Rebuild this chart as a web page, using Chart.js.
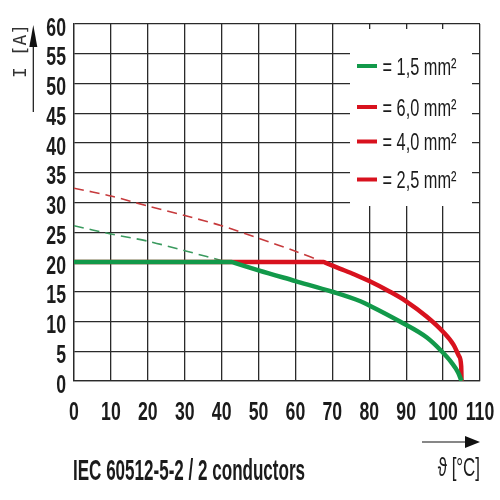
<!DOCTYPE html>
<html lang="en">
<head>
    <meta charset="UTF-8">
    <title>Derating curve</title>
    <script src="https://cdn.jsdelivr.net/npm/chart.js"></script>
    <style>
        body { margin: 0; background: #fff; }
        #wrap { width: 500px; height: 500px; position: relative; }
    </style>
</head>
<body>
    <div id="wrap"><canvas id="derating"></canvas></div>

    <script>
        // values (temperature in °C, current in A)
        const greenTemp = [0, 42.7, 43.5, 50, 60, 70, 77.6, 80, 88.3, 95.6, 99.6, 102.3, 104.1, 105];
        const greenAmp  = [20, 20, 19.85, 18.6, 16.8, 15, 13.4, 12.7, 10, 7.3, 5, 3.1, 1.4, 0];

        const redTemp = [0, 67.6, 68.4, 72, 76, 80, 85.6, 90, 95.6, 100.1, 102.8, 104.3, 104.9, 105];
        const redAmp  = [20, 20, 19.8, 18.9, 17.9, 16.8, 15, 13.4, 10.8, 8.2, 6.1, 4.2, 2.5, 0];

        const greenDashTemp = [0, 10, 20, 30, 41.4];
        const greenDashAmp  = [26.1, 24.7, 23.5, 21.9, 20];

        const redDashTemp = [0, 10, 20, 30, 40, 50, 60, 67.6];
        const redDashAmp  = [32.4, 31.1, 29.4, 27.8, 26.1, 24.0, 21.8, 20];

        const xTicks = [0, 10, 20, 30, 40, 50, 60, 70, 80, 90, 100, 110];
        const yTicks = [0, 5, 10, 15, 20, 25, 30, 35, 40, 45, 50, 55, 60];

        const conductors = ["1,5 mm²", "6,0 mm²", "4,0 mm²", "2,5 mm²"];

        const GREEN = "#12994a";
        const RED = "#d8121e";
        const INK = "#1b1b1b";
        const SANS = "'Liberation Sans', Arial, sans-serif";

        const toPoints = (xs, ys) => xs.map((x, i) => ({ x: x, y: ys[i] }));

        // condensed text: the original uses a narrow typeface
        function narrowText(ctx, text, x, y, sx, align) {
            ctx.save();
            ctx.translate(x, y);
            ctx.scale(sx, 1);
            ctx.textAlign = align;
            ctx.fillText(text, 0, 0);
            ctx.restore();
        }

        const decorations = {
            id: "decorations",
            afterDraw(chart) {
                const ctx = chart.ctx;
                const xs = chart.scales.x, ys = chart.scales.y;
                ctx.save();
                ctx.textBaseline = "alphabetic";

                // tick labels, placed by the scales
                ctx.fillStyle = INK;
                ctx.font = "bold 26px " + SANS;
                yTicks.forEach(v => {
                    narrowText(ctx, String(v), 66, ys.getPixelForValue(v) + 11.5, 0.68, "right");
                });
                xTicks.forEach(v => {
                    narrowText(ctx, String(v), xs.getPixelForValue(v), 420, 0.68, "center");
                });

                // legend box
                ctx.fillStyle = "#fff";
                ctx.fillRect(350, 29, 122, 177);
                const rows = [66, 107, 141.5, 179.5];
                const colors = [GREEN, RED, RED, RED];
                ctx.font = "23.5px " + SANS;
                conductors.forEach((c, i) => {
                    ctx.strokeStyle = colors[i];
                    ctx.lineWidth = 4;
                    ctx.beginPath();
                    ctx.moveTo(357, rows[i]);
                    ctx.lineTo(377, rows[i]);
                    ctx.stroke();
                    ctx.fillStyle = INK;
                    narrowText(ctx, "= " + c, 382.5, rows[i] + 8.5, 0.695, "left");
                });

                // y axis name and arrow
                ctx.fillStyle = "#333";
                ctx.save();
                ctx.translate(26, 78);
                ctx.rotate(-Math.PI / 2);
                ctx.font = "18px 'DejaVu Sans Mono', monospace";
                ctx.textAlign = "left";
                ctx.fillText("I [A]", 0, 0);
                ctx.restore();

                ctx.strokeStyle = "#111";
                ctx.fillStyle = "#111";
                ctx.lineWidth = 1.2;
                ctx.beginPath();
                ctx.moveTo(33.3, 112);
                ctx.lineTo(33.3, 40);
                ctx.stroke();
                ctx.beginPath();
                ctx.moveTo(33.3, 25);
                ctx.lineTo(29.3, 47);
                ctx.lineTo(37.3, 47);
                ctx.closePath();
                ctx.fill();

                // x axis name and arrow
                ctx.beginPath();
                ctx.moveTo(422, 442);
                ctx.lineTo(468, 442);
                ctx.stroke();
                ctx.beginPath();
                ctx.moveTo(480, 442);
                ctx.lineTo(465, 436);
                ctx.lineTo(465, 448);
                ctx.closePath();
                ctx.fill();

                ctx.fillStyle = INK;
                ctx.font = "26px " + SANS;
                narrowText(ctx, "ϑ [°C]", 480, 476, 0.65, "right");

                // standard note
                ctx.font = "bold 30px " + SANS;
                narrowText(ctx, "IEC 60512-5-2 / 2 conductors", 73, 480, 0.568, "left");

                ctx.restore();
            }
        };

        const ctx = document.getElementById("derating").getContext("2d");
        new Chart(ctx, {
            type: "line",
            data: {
                datasets: [
                    {
                        label: conductors[0],
                        data: toPoints(greenTemp, greenAmp),
                        borderColor: GREEN,
                        borderWidth: 4.5,
                        cubicInterpolationMode: "monotone",
                        pointRadius: 0
                    },
                    {
                        label: conductors.slice(1).join(" / "),
                        data: toPoints(redTemp, redAmp),
                        borderColor: RED,
                        borderWidth: 4.5,
                        cubicInterpolationMode: "monotone",
                        pointRadius: 0
                    },
                    {
                        label: "1,5 mm² extrapolated",
                        data: toPoints(greenDashTemp, greenDashAmp),
                        borderColor: "#3a9a5e",
                        borderWidth: 1.6,
                        borderDash: [10, 6],
                        tension: 0.3,
                        pointRadius: 0
                    },
                    {
                        label: "red extrapolated",
                        data: toPoints(redDashTemp, redDashAmp),
                        borderColor: "#c63a3c",
                        borderWidth: 1.6,
                        borderDash: [10, 6],
                        tension: 0.3,
                        pointRadius: 0
                    }
                ]
            },
            options: {
                responsive: true,
                maintainAspectRatio: false,
                animation: false,
                layout: { padding: { top: 24, right: 20, left: 0, bottom: 0 } },
                plugins: {
                    legend: { display: false },
                    tooltip: { enabled: false }
                },
                scales: {
                    x: {
                        type: "linear",
                        min: 0,
                        max: 110,
                        afterBuildTicks: s => { s.ticks = xTicks.map(v => ({ value: v })); },
                        afterFit: s => { s.height = 119; },
                        grid: { color: "#2a2a2a", lineWidth: 1.3, drawTicks: false },
                        border: { color: "#2a2a2a", width: 1.3 },
                        ticks: { display: false }
                    },
                    y: {
                        min: 0,
                        max: 60,
                        afterBuildTicks: s => { s.ticks = yTicks.map(v => ({ value: v })); },
                        afterFit: s => { s.width = 74; },
                        grid: { color: "#2a2a2a", lineWidth: 1.3, drawTicks: false },
                        border: { color: "#2a2a2a", width: 1.3 },
                        ticks: { display: false }
                    }
                }
            },
            plugins: [decorations]
        });
    </script>
</body>
</html>
